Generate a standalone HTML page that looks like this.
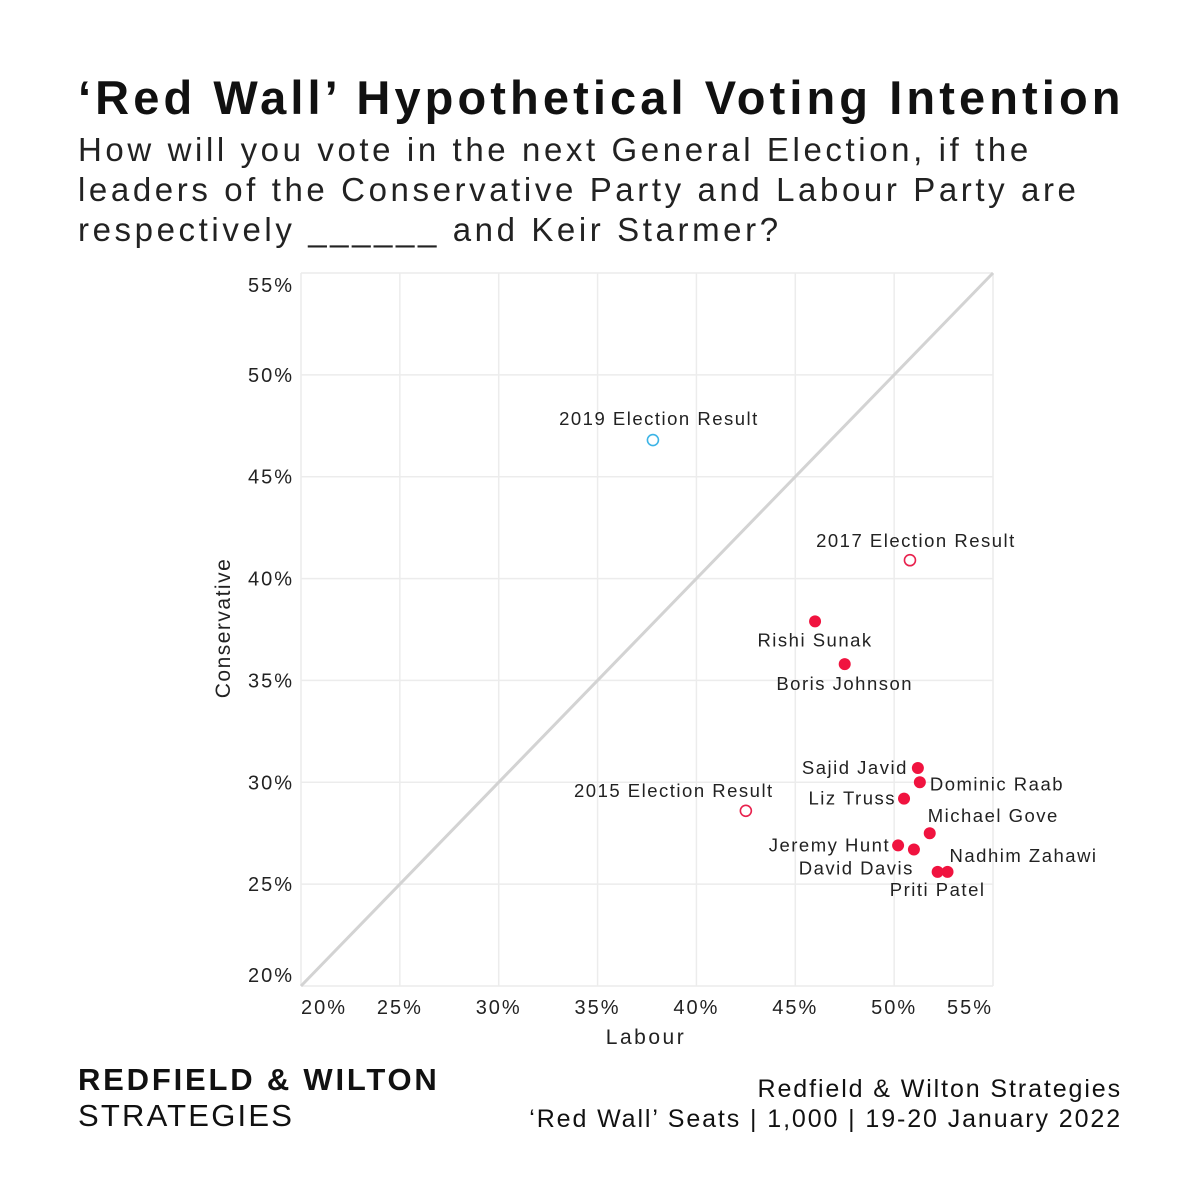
<!DOCTYPE html>
<html><head><meta charset="utf-8"><style>
body{margin:0;background:#fff;font-family:"Liberation Sans",sans-serif;}
#wrap{position:relative;width:1200px;height:1200px;overflow:hidden;background:#fff}
.t{position:absolute;white-space:nowrap;color:#111}
</style></head><body>
<div id="wrap">
<div class="t" style="left:78px;top:70px;font-size:47px;font-weight:bold;letter-spacing:4.1px">‘Red Wall’ Hypothetical Voting Intention</div>
<div class="t" style="left:78px;top:130px;font-size:33px;line-height:40px;color:#222;letter-spacing:3.6px">How will you vote in the next General Election, if the<br>leaders of the Conservative Party and Labour Party are<br>respectively ______ and Keir Starmer?</div>
<svg id="plot" width="1200" height="1200" style="position:absolute;left:0;top:0" font-family="Liberation Sans, sans-serif"></svg>
<div class="t" style="left:78px;top:1062px;font-size:31px;font-weight:bold;letter-spacing:2.8px">REDFIELD &amp; WILTON</div>
<div class="t" style="left:78px;top:1098px;font-size:31px;letter-spacing:2.2px">STRATEGIES</div>
<div class="t" style="right:78px;top:1074px;font-size:25px;line-height:30px;text-align:right;letter-spacing:1.9px">Redfield &amp; Wilton Strategies<br>‘Red Wall’ Seats | 1,000 | 19-20 January 2022</div>
</div>
<script>
const names=["2019 Election Result","2017 Election Result","2015 Election Result","Rishi Sunak","Boris Johnson","Sajid Javid","Dominic Raab","Liz Truss","Michael Gove","Jeremy Hunt","David Davis","Nadhim Zahawi","Priti Patel"];
const labour=[37.8,50.8,42.5,46.0,47.5,51.2,51.3,50.5,51.8,50.2,51.0,52.7,52.2];
const conservative=[46.8,40.9,28.6,37.9,35.8,30.7,30.0,29.2,27.5,26.9,26.7,25.6,25.6];
const ticks=[20,25,30,35,40,45,50,55];
const tickLabels=["20%","25%","30%","35%","40%","45%","50%","55%"];
const kinds=["hollow-blue","hollow-red","hollow-red","solid","solid","solid","solid","solid","solid","solid","solid","solid","solid"];
const lab=[[6,-15,"middle"],[6,-13,"middle"],[-72,-14,"middle"],[0,25,"middle"],[0,26,"middle"],[-10,6,"end"],[10,8,"start"],[-8,6,"end"],[-2,-11,"start"],[-8,6,"end"],[0,25,"end"],[2,-10,"start"],[0,24,"middle"]];
const svg=document.getElementById('plot');const NS="http://www.w3.org/2000/svg";
const X=v=>301+(v-20)*(692/35), Y=v=>986-(v-20)*(713/35);
function mk(t,a,p){const e=document.createElementNS(NS,t);for(const k in a)e.setAttribute(k,a[k]);(p||svg).appendChild(e);return e;}
ticks.forEach((t,i)=>{
 const g=mk('line',{x1:X(t),x2:X(t),y1:Y(20),y2:Y(55),stroke:"#ececec","stroke-width":1.5});
 
 const h=mk('line',{x1:X(20),x2:X(55),y1:Y(t),y2:Y(t),stroke:"#ececec","stroke-width":1.5});
 
 const xl=mk('text',{x:X(t),y:1014,"font-size":20,fill:"#222","letter-spacing":2,"text-anchor":i==0?"start":i==ticks.length-1?"end":"middle"});xl.textContent=tickLabels[i];
 
 let yy=Y(t)+7; if(i==0) yy=Y(t)-4; if(i==ticks.length-1) yy=Y(t)+19;
 const yl=mk('text',{x:294,y:yy,"font-size":20,fill:"#222","letter-spacing":2,"text-anchor":"end"});yl.textContent=tickLabels[i];
 
});
const d=mk('line',{x1:X(20),y1:Y(20),x2:X(55),y2:Y(55),stroke:"#d3d3d3","stroke-width":3});

const xt=mk('text',{x:646,y:1044,"font-size":21,fill:"#222","letter-spacing":2.5,"text-anchor":"middle"});xt.textContent="Labour";

const yt=mk('text',{x:230,y:628,"font-size":21,fill:"#222","letter-spacing":1.5,"text-anchor":"middle",transform:"rotate(-90 230 628)"});yt.textContent="Conservative";

names.forEach((n,i)=>{
 const cx=X(labour[i]),cy=Y(conservative[i]);const k=kinds[i];
 const c=mk('circle',{cx,cy,r:k=="solid"?6:5.5,fill:k=="solid"?"#f0133f":"#fff",stroke:k=="hollow-blue"?"#3cb4e6":"#e8214d","stroke-width":k=="solid"?0:1.6});
 
 const t=mk('text',{x:cx+lab[i][0],y:cy+lab[i][1],"font-size":18.5,fill:"#222","letter-spacing":1.5,"text-anchor":lab[i][2]});t.textContent=n;
 
});
</script>
</body></html>
